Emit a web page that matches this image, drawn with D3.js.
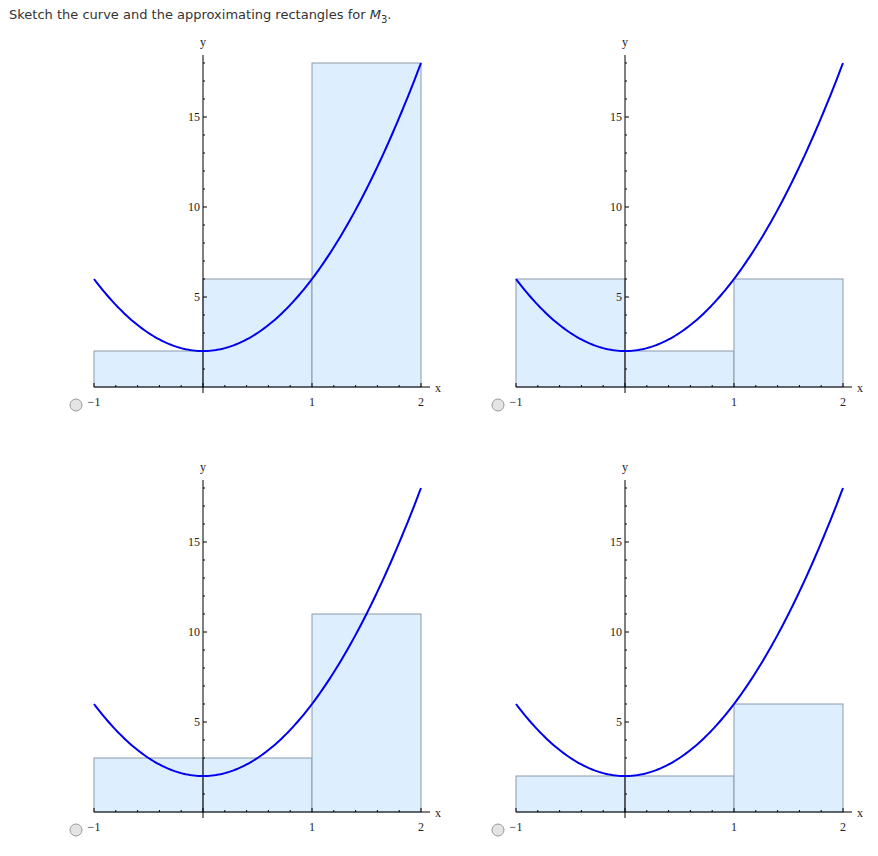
<!DOCTYPE html><html><head><meta charset="utf-8">
<script src="https://cdn.jsdelivr.net/npm/d3@7"></script>
<style>body{margin:0;background:#fff}</style></head><body>
<svg id="c" width="878" height="856"></svg>
<script>
const fnCoef=[2,0,4]; // f(x)=2+4x^2
const intervals=[[-1,0],[0,1],[1,2]];
const panelHeights=[[2,6,18],[6,2,6],[3,3,11],[2,2,6]];
const yTicks=[5,10,15];
const xTicks=[-1,1,2];
const svg=d3.select("#c");
svg.append("text").attr("x",9).attr("y",19).attr("font-family","DejaVu Sans, Verdana").attr("font-size",13).attr("fill","#333")
 .html('Sketch the curve and the approximating rectangles for <tspan font-style="italic">M</tspan><tspan font-size="10" dy="4">3</tspan><tspan dy="-4">.</tspan>');
const f=x=>fnCoef[0]+fnCoef[1]*x+fnCoef[2]*x*x;
const offs=[[0,0],[422,0],[0,425],[422,425]];
panelHeights.forEach((hs,i)=>{
 const [ox,oy]=offs[i];
 const g=svg.append("g").attr("transform",`translate(${ox},${oy})`);
 const x=d3.scaleLinear().domain([-1,2]).range([94,421]);
 const y=d3.scaleLinear().domain([0,18]).range([387,63]);
 g.selectAll("rect").data(intervals).join("rect")
  .attr("x",d=>x(d[0])).attr("width",d=>x(d[1])-x(d[0]))
  .attr("y",(d,j)=>y(hs[j])).attr("height",(d,j)=>y(0)-y(hs[j]))
  .attr("fill","#ddeeff").attr("stroke","#8a9aab").attr("stroke-width",1);
 // axes
 g.append("line").attr("x1",x(-1)).attr("x2",430).attr("y1",y(0)).attr("y2",y(0)).attr("stroke","#000");
 g.append("line").attr("x1",x(0)).attr("x2",x(0)).attr("y1",393).attr("y2",55).attr("stroke","#000");
 d3.range(-1,2.01,0.2).forEach(t=>{const big=Math.abs(t-Math.round(t))<1e-6;
  g.append("line").attr("x1",x(t)).attr("x2",x(t)).attr("y1",y(0)).attr("y2",y(0)-(big?4:2)).attr("stroke","#000");});
 d3.range(1,19).forEach(t=>{const big=t%5==0;
  g.append("line").attr("x1",x(0)).attr("x2",x(0)+(big?4:2)).attr("y1",y(t)).attr("y2",y(t)).attr("stroke","#000");});
 const tf={"font-family":"Liberation Serif, Times New Roman","font-size":12,"fill":"#222"};
 yTicks.forEach(t=>{const e=g.append("text").attr("x",x(0)-3).attr("y",y(t)+4).attr("text-anchor","end").text(t);for(const k in tf)e.attr(k,tf[k]);});
 xTicks.forEach(t=>{const e=g.append("text").attr("x",x(t)).attr("y",y(0)+19).attr("text-anchor","middle").text(t<0?"\u22121":t);for(const k in tf)e.attr(k,tf[k]);});
 let e=g.append("text").attr("x",x(0)).attr("y",46).attr("text-anchor","middle").text("y");for(const k in tf)e.attr(k,tf[k]);
 e=g.append("text").attr("x",438).attr("y",y(0)+5).attr("text-anchor","middle").text("x");for(const k in tf)e.attr(k,tf[k]);
 const line=d3.line().x(d=>x(d)).y(d=>y(f(d)));
 g.append("path").attr("d",line(d3.range(-1,2.0001,0.02))).attr("fill","none").attr("stroke","#0000ee").attr("stroke-width",2);
 g.append("circle").attr("cx",76).attr("cy",405).attr("r",6).attr("fill","#e4e4e4").attr("stroke","#999");
});
</script></body></html>
